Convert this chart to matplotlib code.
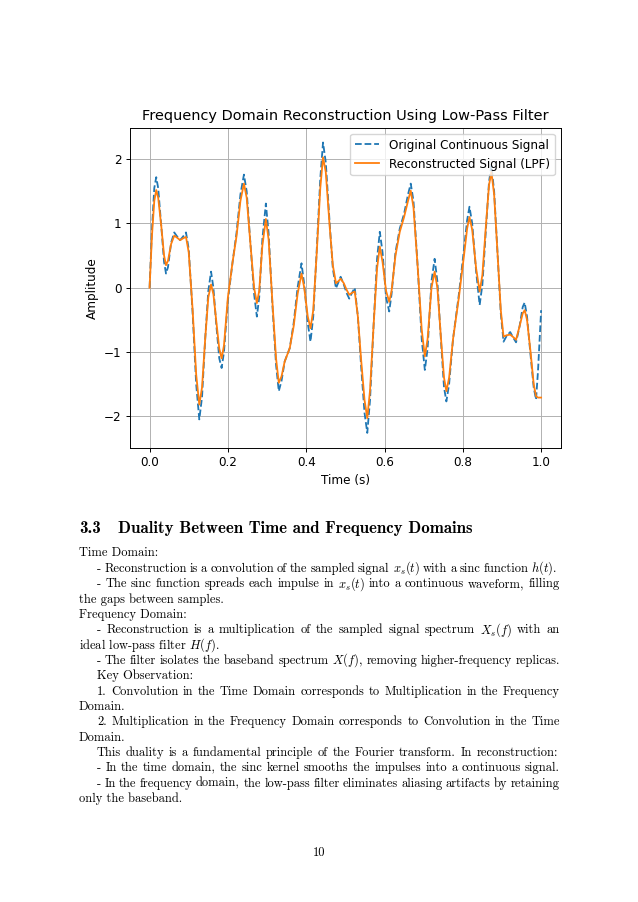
import numpy as np
import matplotlib.pyplot as plt

plt.rcParams['mathtext.fontset'] = 'cm'

# time axis of the read-off points (s)
t = [0.000, 0.006, 0.012, 0.017, 0.022, 0.030, 0.037, 0.042, 0.047, 0.055,
     0.063, 0.070, 0.078, 0.086, 0.093, 0.100, 0.110, 0.119, 0.127, 0.134,
     0.142, 0.150, 0.157, 0.163, 0.170, 0.178, 0.184, 0.190, 0.200, 0.212,
     0.222, 0.232, 0.241, 0.248, 0.258, 0.267, 0.274, 0.280, 0.288, 0.297,
     0.304, 0.314, 0.323, 0.330, 0.337, 0.345, 0.358, 0.368, 0.378, 0.388,
     0.395, 0.404, 0.411, 0.418, 0.427, 0.436, 0.443, 0.450, 0.460, 0.468,
     0.476, 0.482, 0.488, 0.496, 0.503, 0.510, 0.517, 0.524, 0.532, 0.540,
     0.549, 0.556, 0.563, 0.572, 0.581, 0.588, 0.595, 0.604, 0.612, 0.618,
     0.628, 0.639, 0.650, 0.660, 0.667, 0.674, 0.685, 0.695, 0.703, 0.710,
     0.720, 0.728, 0.735, 0.745, 0.752, 0.758, 0.765, 0.775, 0.790, 0.803,
     0.811, 0.817, 0.824, 0.834, 0.843, 0.850, 0.860, 0.867, 0.873, 0.880,
     0.889, 0.897, 0.904, 0.912, 0.921, 0.929, 0.936, 0.945, 0.953, 0.958,
     0.964, 0.973, 0.981, 0.987, 0.992, 1.000]

# original continuous signal
x_orig = [0.00, 0.90, 1.55, 1.72, 1.55, 0.95, 0.40, 0.22, 0.32, 0.70,
          0.86, 0.80, 0.74, 0.80, 0.86, 0.60, -0.40, -1.50, -2.05, -1.70,
          -0.80, -0.05, 0.25, 0.00, -0.55, -1.10, -1.25, -1.00, -0.20, 0.40,
          0.85, 1.45, 1.76, 1.50, 0.65, -0.10, -0.45, -0.15, 0.75, 1.31,
          0.85, -0.30, -1.20, -1.61, -1.45, -1.15, -0.94, -0.55, 0.00, 0.38,
          0.05, -0.55, -0.84, -0.45, 0.60, 1.70, 2.26, 1.95, 1.00, 0.30,
          -0.01, 0.08, 0.17, 0.05, -0.08, -0.17, -0.08, 0.00, -0.45, -1.20,
          -1.95, -2.26, -1.75, -0.60, 0.45, 0.87, 0.55, -0.15, -0.37, -0.10,
          0.55, 0.92, 1.15, 1.45, 1.62, 1.35, 0.30, -0.80, -1.28, -0.95,
          0.10, 0.45, 0.10, -0.90, -1.55, -1.77, -1.50, -0.80, -0.10, 0.60,
          1.05, 1.26, 1.00, 0.25, -0.27, 0.05, 1.00, 1.65, 1.90, 1.50,
          0.50, -0.40, -0.84, -0.75, -0.69, -0.78, -0.85, -0.60, -0.30, -0.23,
          -0.45, -1.05, -1.55, -1.74, -1.30, -0.35]

# reconstructed signal (LPF)
x_rec = [0.00, 0.80, 1.35, 1.52, 1.40, 0.95, 0.50, 0.35, 0.42, 0.68,
         0.81, 0.78, 0.74, 0.77, 0.79, 0.55, -0.35, -1.35, -1.82, -1.55,
         -0.80, -0.15, 0.05, -0.10, -0.50, -0.95, -1.10, -0.90, -0.15, 0.40,
         0.80, 1.35, 1.62, 1.40, 0.65, 0.00, -0.24, -0.05, 0.65, 1.07,
         0.75, -0.25, -1.10, -1.48, -1.38, -1.15, -0.94, -0.60, -0.10, 0.22,
         0.00, -0.45, -0.63, -0.35, 0.55, 1.55, 2.03, 1.80, 0.95, 0.35,
         0.07, 0.10, 0.14, 0.07, -0.03, -0.11, -0.08, -0.06, -0.45, -1.10,
         -1.75, -2.03, -1.60, -0.60, 0.30, 0.64, 0.40, -0.05, -0.22, -0.05,
         0.50, 0.87, 1.10, 1.35, 1.51, 1.25, 0.30, -0.65, -1.07, -0.80,
         0.00, 0.25, 0.00, -0.85, -1.40, -1.61, -1.40, -0.80, -0.15, 0.50,
         0.92, 1.10, 0.90, 0.30, -0.06, 0.20, 1.05, 1.60, 1.80, 1.45,
         0.50, -0.35, -0.76, -0.74, -0.73, -0.77, -0.81, -0.60, -0.40, -0.35,
         -0.50, -1.00, -1.50, -1.69, -1.71, -1.71]

xticks = [0.0, 0.2, 0.4, 0.6, 0.8, 1.0]
yticks = [-2, -1, 0, 1, 2]

# page text: (indented, text, right edge in px or None)
lines = [
    (False, "Time Domain:", None),
    (True, "- Reconstruction is a convolution of the sampled signal $x_s(t)$ with a sinc function $h(t)$.", 557),
    (True, "- The sinc function spreads each impulse in $x_s(t)$ into a continuous waveform, filling", 560),
    (False, "the gaps between samples.", None),
    (False, "Frequency Domain:", None),
    (True, "- Reconstruction is a multiplication of the sampled signal spectrum $X_s(f)$ with an", 560),
    (False, "ideal low-pass filter $H(f)$.", None),
    (True, "- The filter isolates the baseband spectrum $X(f)$, removing higher-frequency replicas.", 560),
    (True, "Key Observation:", None),
    (True, "1. Convolution in the Time Domain corresponds to Multiplication in the Frequency", 560),
    (False, "Domain.", None),
    (True, "2. Multiplication in the Frequency Domain corresponds to Convolution in the Time", 560),
    (False, "Domain.", None),
    (True, "This duality is a fundamental principle of the Fourier transform. In reconstruction:", 558),
    (True, "- In the time domain, the sinc kernel smooths the impulses into a continuous signal.", 560),
    (True, "- In the frequency domain, the low-pass filter eliminates aliasing artifacts by retaining", 560),
    (False, "only the baseband.", None),
]

W, H = 638, 902
s = 0.868  # figure was shrunk to text width

fig = plt.figure(figsize=(W / 100, H / 100), dpi=100)

ax = fig.add_axes([130 / W, 1 - 447.7 / H, 430.7 / W, 320 / H])
ax.plot(t, x_orig, '--', color='#1f77b4', lw=1.5 * s, label='Original Continuous Signal')
ax.plot(t, x_rec, '-', color='#ff7f0e', lw=1.5 * s, label='Reconstructed Signal (LPF)')
ax.set_xlim(-0.05, 1.05)
ax.set_ylim(-2.49, 2.49)
ax.set_xticks(xticks)
ax.set_yticks(yticks)
ax.tick_params(labelsize=10 * s, length=3.5 * s, width=0.8 * s, pad=3.5 * s)
for sp in ax.spines.values():
    sp.set_linewidth(0.8 * s)
ax.grid(True, lw=0.8 * s, color='#b0b0b0')
ax.set_title('Frequency Domain Reconstruction Using Low-Pass Filter', fontsize=12 * s, pad=6 * s)
ax.set_xlabel('Time (s)', fontsize=10 * s, labelpad=4 * s)
ax.set_ylabel('Amplitude', fontsize=10 * s, labelpad=4 * s)
ax.legend(loc='upper right', fontsize=10 * s)

# body text in Computer Modern, justified by hand
body = dict(family='cmr10', fontsize=9.0)
renderer = fig.canvas.get_renderer()
space = 0.333 * 9.0 * 100 / 72


def text_width(txt):
    tt = fig.text(0, 0, txt, **body)
    wd = tt.get_window_extent(renderer).width
    tt.remove()
    return wd


def put_line(text, y, x0, x1=None):
    if x1 is None:
        fig.text(x0 / W, 1 - y / H, text, ha='left', va='baseline', **body)
        return
    words = text.split(' ')
    widths = [text_width(w) for w in words]
    gaps = [0]
    for a, b, wa, wb in zip(words[:-1], words[1:], widths[:-1], widths[1:]):
        if '$' in a or '$' in b:
            gaps.append(space)
        else:
            gaps.append(text_width(a + ' ' + b) - wa - wb)
    extra = (x1 - x0 - sum(widths) - sum(gaps)) / (len(words) - 1)
    x = x0
    for i, w in enumerate(words):
        if i > 0:
            x += widths[i - 1] + gaps[i] + extra
        fig.text(x / W, 1 - y / H, w, ha='left', va='baseline', **body)


fig.text(79 / W, 1 - 533 / H, '3.3', family='cmb10', fontsize=12.2, va='baseline')
fig.text(118 / W, 1 - 533 / H, 'Duality Between Time and Frequency Domains',
         family='cmb10', fontsize=12.2, va='baseline')

y = 556.5
for indent, text, right in lines:
    put_line(text, y, 97 if indent else 79, right)
    y += 15.35

fig.text(319.5 / W, 1 - 856 / H, '10', ha='center', va='baseline', **body)

fig.savefig('out.png', dpi=100)
